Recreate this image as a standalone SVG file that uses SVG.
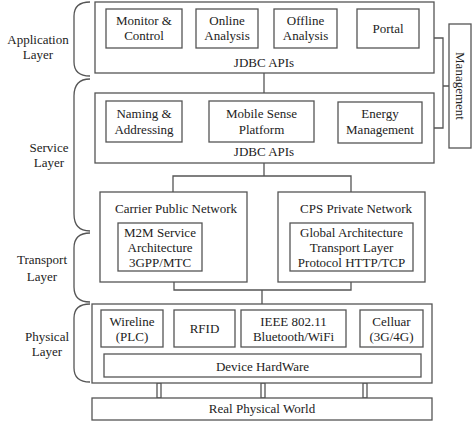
<svg xmlns="http://www.w3.org/2000/svg" width="474" height="424" viewBox="0 0 474 424">
<style>
.box{fill:#fff;stroke:#555;stroke-width:1.3}
.ln{fill:none;stroke:#555;stroke-width:1.3}
text{font-family:"Liberation Serif","Times New Roman",serif;font-size:13px;fill:#222;text-anchor:middle}
</style>
<rect width="474" height="424" fill="#fff"/>
<g id="connectors">
<path class="ln" d="M90,2 Q74,2 74,16 L74,62 Q74,76 90,76"/>
<path class="ln" d="M90,79 Q74,79 74,96 L74,214 Q74,231 90,231"/>
<path class="ln" d="M90,233 Q74,233 74,248 L74,287 Q74,302 90,302"/>
<path class="ln" d="M90,304 Q74,304 74,318 L74,368 Q74,382 90,382"/>
<path class="ln" d="M264,73 V93"/>
<path class="ln" d="M264,163 V176 M173,192 V176 H351 V192"/>
<path class="ln" d="M174,282 V290 H351 V282 M262,290 V304"/>
<path class="ln" d="M434,38 H443 V128 H434 M443,86 H449"/>
<rect class="box" x="157" y="383" width="4" height="15"/>
<rect class="box" x="261" y="383" width="4" height="15"/>
<rect class="box" x="363" y="383" width="4" height="15"/>
</g>
<g id="labels">
<text x="38" y="44">Application</text><text x="38" y="59">Layer</text>
<text x="49" y="152">Service</text><text x="49" y="167">Layer</text>
<text x="42" y="264">Transport</text><text x="42" y="281">Layer</text>
<text x="47" y="341">Physical</text><text x="47" y="356">Layer</text>
</g>
<g id="application">
<rect class="box" x="95" y="2" width="339" height="71"/>
<text x="264" y="66.5">JDBC APIs</text>
</g>
<g id="monitor"><rect class="box" x="106" y="9" width="76" height="39"/><text x="144" y="25">Monitor &amp;</text><text x="144" y="40">Control</text></g>
<g id="online"><rect class="box" x="196" y="9" width="62" height="39"/><text x="227" y="25">Online</text><text x="227" y="40">Analysis</text></g>
<g id="offline"><rect class="box" x="274" y="9" width="63" height="39"/><text x="305.5" y="25">Offline</text><text x="305.5" y="40">Analysis</text></g>
<g id="portal"><rect class="box" x="357" y="9" width="62" height="39"/><text x="388" y="33">Portal</text></g>
<g id="service">
<rect class="box" x="95" y="93" width="339" height="70"/>
<text x="264" y="155.5">JDBC APIs</text>
</g>
<g id="naming"><rect class="box" x="106" y="101" width="76" height="41"/><text x="144" y="117.5">Naming &amp;</text><text x="144" y="133.5">Addressing</text></g>
<g id="mobile"><rect class="box" x="209" y="101" width="105" height="41"/><text x="261.5" y="117.5">Mobile Sense</text><text x="261.5" y="133.5">Platform</text></g>
<g id="energy"><rect class="box" x="338" y="102" width="84" height="41"/><text x="380" y="117.5">Energy</text><text x="380" y="134">Management</text></g>
<g id="carrier">
<rect class="box" x="100" y="192" width="147" height="90"/>
<text x="176" y="212.5">Carrier Public Network</text>
<rect class="box" x="118" y="223" width="84" height="48"/>
<text x="160" y="236.5">M2M Service</text><text x="160" y="251.5">Architecture</text><text x="160" y="266.5">3GPP/MTC</text>
</g>
<g id="cps">
<rect class="box" x="278" y="192" width="147" height="90"/>
<text x="356" y="212.5">CPS Private Network</text>
<rect class="box" x="290" y="223" width="123" height="48"/>
<text x="351.5" y="236.5">Global Architecture</text><text x="351.5" y="251.5">Transport Layer</text><text x="351.5" y="266.5">Protocol HTTP/TCP</text>
</g>
<g id="physical">
<rect class="box" x="92" y="304" width="340" height="79"/>
</g>
<g id="wireline"><rect class="box" x="101" y="310" width="62" height="37"/><text x="132" y="325.5">Wireline</text><text x="132" y="340.5">(PLC)</text></g>
<g id="rfid"><rect class="box" x="174" y="310" width="61" height="37"/><text x="204.5" y="332.5">RFID</text></g>
<g id="ieee"><rect class="box" x="241" y="310" width="105" height="37"/><text x="293.5" y="325.5">IEEE 802.11</text><text x="293.5" y="340.5">Bluetooth/WiFi</text></g>
<g id="celluar"><rect class="box" x="360" y="310" width="63" height="37"/><text x="391.5" y="325.5">Celluar</text><text x="391.5" y="340.5">(3G/4G)</text></g>
<g id="hardware"><rect class="box" x="104" y="354" width="317" height="23"/><text x="262.5" y="370.5">Device HardWare</text></g>
<g id="world"><rect class="box" x="92" y="398" width="340" height="22"/><text x="262" y="412.5">Real Physical World</text></g>
<g id="management"><rect class="box" x="449" y="24" width="22" height="124"/><text transform="translate(460,86) rotate(90)" y="4.5">Management</text></g>
</svg>
